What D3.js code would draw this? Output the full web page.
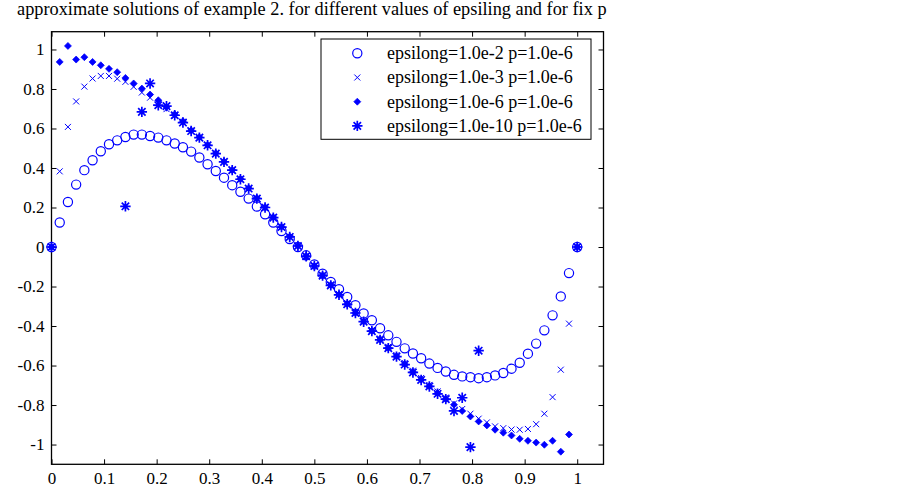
<!DOCTYPE html>
<html>
<head>
<meta charset="utf-8">
<script src="https://cdn.jsdelivr.net/npm/d3@7"></script>
<style>
  body { margin: 0; background: #fff; }
  text { font-family: "Liberation Serif", "Times New Roman", serif; }
</style>
</head>
<body>
<svg id="chart" width="903" height="492"></svg>
<script>
"use strict";
var titleText = 'approximate solutions of example 2. for different values of epsiling and for fix p';
var xTicks = [0, 0.1, 0.2, 0.3, 0.4, 0.5, 0.6, 0.7, 0.8, 0.9, 1];
var yTicks = [-1, -0.8, -0.6, -0.4, -0.2, 0, 0.2, 0.4, 0.6, 0.8, 1];
// mesh: 64 intervals on [0, 1]
var nIntervals = 64;
var legendLabels = [
    'epsilong=1.0e-2 p=1.0e-6',
    'epsilong=1.0e-3 p=1.0e-6',
    'epsilong=1.0e-6 p=1.0e-6',
    'epsilong=1.0e-10 p=1.0e-6'
];
var markerTypes = ['circle', 'cross', 'dot', 'star'];
var eps2 = [0, 0.124, 0.228, 0.316, 0.389, 0.439, 0.485, 0.520, 0.540, 0.557,
    0.569, 0.569, 0.562, 0.554, 0.540, 0.524, 0.505, 0.483, 0.453, 0.419,
    0.385, 0.351, 0.313, 0.280, 0.245, 0.205, 0.166, 0.124, 0.081, 0.040,
    0.000, -0.042, -0.088, -0.135, -0.177, -0.214, -0.253, -0.295, -0.336, -0.371,
    -0.411, -0.447, -0.480, -0.513, -0.539, -0.563, -0.590, -0.612, -0.630, -0.647,
    -0.655, -0.659, -0.664, -0.659, -0.650, -0.638, -0.616, -0.586, -0.540, -0.489,
    -0.422, -0.346, -0.250, -0.132, 0];
var eps3 = [0, 0.383, 0.608, 0.737, 0.812, 0.853, 0.866, 0.866, 0.852, 0.836,
    0.811, 0.782, 0.756, 0.728, 0.698, 0.664, 0.630, 0.588, 0.553, 0.514,
    0.472, 0.430, 0.387, 0.342, 0.295, 0.246, 0.200, 0.150, 0.101, 0.052,
    0.004, -0.046, -0.095, -0.143, -0.191, -0.238, -0.285, -0.330, -0.374, -0.420,
    -0.463, -0.505, -0.547, -0.587, -0.626, -0.663, -0.698, -0.731, -0.762, -0.792,
    -0.820, -0.844, -0.869, -0.888, -0.908, -0.917, -0.924, -0.925, -0.921, -0.897,
    -0.844, -0.760, -0.621, -0.388, 0];
var eps6 = [0, 0.937, 1.018, 0.949, 0.961, 0.937, 0.920, 0.902, 0.885, 0.856,
    0.828, 0.802, 0.772, 0.743, 0.709, 0.672, 0.637, 0.591, 0.556, 0.517,
    0.475, 0.433, 0.390, 0.345, 0.298, 0.248, 0.202, 0.151, 0.103, 0.053,
    0.006, -0.045, -0.095, -0.143, -0.192, -0.240, -0.288, -0.333, -0.377, -0.424,
    -0.468, -0.510, -0.553, -0.593, -0.633, -0.671, -0.705, -0.740, -0.770, -0.798,
    -0.830, -0.858, -0.883, -0.903, -0.925, -0.940, -0.954, -0.971, -0.981, -0.990,
    -1.001, -0.981, -1.036, -0.949, 0];
// values outside the axis limits are not shown
var eps10 = [0, null, null, null, null, null, null, null, null, 0.206,
    null, 0.684, 0.828, 0.718, 0.713, 0.667, 0.630, 0.587, 0.554, 0.515,
    0.473, 0.431, 0.389, 0.343, 0.296, 0.245, 0.200, 0.149, 0.101, 0.051,
    0.005, -0.047, -0.096, -0.145, -0.194, -0.242, -0.290, -0.334, -0.378, -0.426,
    -0.470, -0.512, -0.555, -0.595, -0.635, -0.673, -0.706, -0.743, -0.770, -0.830,
    -0.763, -1.013, -0.525, null, null, null, null, null, null, null,
    null, null, null, null, 0];
var allSeries = [eps2, eps3, eps6, eps10];

var blue = '#0000ff';
var svg = d3.select('#chart');
var box = { left: 51.5, right: 603.5, top: 31.7, bottom: 464.3 };

var x = d3.scaleLinear().domain([0, 1.05]).range([box.left, box.right]);
var y = d3.scaleLinear().domain([-1.1, 1.09]).range([box.bottom, box.top]);

function fmt(v) {
    return String(Math.round(v * 10) / 10);
}

function drawMarker(g, type, cx, cy) {
    if (type === 'circle') {
        g.append('circle')
            .attr('cx', cx).attr('cy', cy).attr('r', 4.6)
            .attr('fill', 'none').attr('stroke', blue).attr('stroke-width', 1.2);
    }
    else if (type === 'cross') {
        var s = 3;
        g.append('path')
            .attr('d', 'M' + (cx - s) + ',' + (cy - s) + 'L' + (cx + s) + ',' + (cy + s) +
                'M' + (cx - s) + ',' + (cy + s) + 'L' + (cx + s) + ',' + (cy - s))
            .attr('stroke', blue).attr('stroke-width', 1).attr('fill', 'none');
    }
    else if (type === 'dot') {
        var d = 3.5;
        g.append('path')
            .attr('d', 'M' + cx + ',' + (cy - d) + 'L' + (cx + d) + ',' + cy +
                'L' + cx + ',' + (cy + d) + 'L' + (cx - d) + ',' + cy + 'Z')
            .attr('fill', blue).attr('stroke', blue).attr('stroke-width', 0.7);
    }
    else {
        var a = 5.2, b = 3.7;
        g.append('path')
            .attr('d', 'M' + (cx - a) + ',' + cy + 'L' + (cx + a) + ',' + cy +
                'M' + cx + ',' + (cy - a) + 'L' + cx + ',' + (cy + a) +
                'M' + (cx - b) + ',' + (cy - b) + 'L' + (cx + b) + ',' + (cy + b) +
                'M' + (cx - b) + ',' + (cy + b) + 'L' + (cx + b) + ',' + (cy - b))
            .attr('stroke', blue).attr('stroke-width', 1.7).attr('fill', 'none');
    }
}

// title, fitted to the width it has in the figure
var title = svg.append('text')
    .attr('x', 17)
    .attr('y', 15)
    .style('font-size', '18px')
    .text(titleText);
var tlen = title.node().getComputedTextLength();
title.style('font-size', (18 * 590 / tlen) + 'px');

// axes, ticks pointing inward on all four sides
svg.append('g')
    .attr('transform', 'translate(' + box.left + ',0)')
    .call(d3.axisLeft(y).tickValues(yTicks).tickFormat(fmt)
        .tickSizeInner(-5).tickSizeOuter(0).tickPadding(7))
    .call(function (g) { g.select('.domain').remove(); });
svg.append('g')
    .attr('transform', 'translate(' + box.right + ',0)')
    .call(d3.axisRight(y).tickValues(yTicks).tickFormat('')
        .tickSizeInner(-5).tickSizeOuter(0))
    .call(function (g) { g.select('.domain').remove(); });
svg.append('g')
    .attr('transform', 'translate(0,' + box.bottom + ')')
    .call(d3.axisBottom(x).tickValues(xTicks).tickFormat(fmt)
        .tickSizeInner(-5).tickSizeOuter(0).tickPadding(8))
    .call(function (g) { g.select('.domain').remove(); });
svg.append('g')
    .attr('transform', 'translate(0,' + box.top + ')')
    .call(d3.axisTop(x).tickValues(xTicks).tickFormat('')
        .tickSizeInner(-5).tickSizeOuter(0))
    .call(function (g) { g.select('.domain').remove(); });

svg.selectAll('.tick line').attr('stroke', '#000').attr('stroke-width', 1);
svg.selectAll('.tick text')
    .attr('fill', '#000')
    .style('font-size', '17px')
    .style('font-family', '"Liberation Serif", "Times New Roman", serif');

svg.append('rect')
    .attr('x', box.left)
    .attr('y', box.top)
    .attr('width', box.right - box.left)
    .attr('height', box.bottom - box.top)
    .attr('fill', 'none')
    .attr('stroke', '#000')
    .attr('stroke-width', 1.3);

// data points
allSeries.forEach(function (vals, si) {
    var g = svg.append('g').attr('class', 'series-' + si);
    vals.forEach(function (v, i) {
        if (v === null)
            return;
        drawMarker(g, markerTypes[si], x(i / nIntervals), y(v));
    });
});

// legend
var legend = svg.append('g').attr('class', 'legend');
legend.append('rect')
    .attr('x', 321)
    .attr('y', 39)
    .attr('width', 270)
    .attr('height', 100.3)
    .attr('fill', '#fff')
    .attr('stroke', '#000')
    .attr('stroke-width', 1);
legendLabels.forEach(function (label, i) {
    var ly = 53.3 + i * 24.2;
    drawMarker(legend, markerTypes[i], 357.3, ly);
    legend.append('text')
        .attr('x', 387)
        .attr('y', ly)
        .attr('dy', '0.33em')
        .style('font-size', '18px')
        .text(label);
});
</script>
</body>
</html>
